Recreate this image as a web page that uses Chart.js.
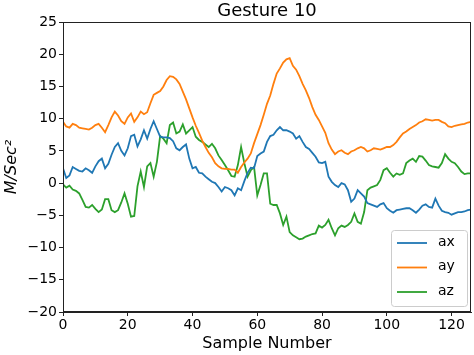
<!DOCTYPE html>
<html><head><meta charset="utf-8">
<script src="https://cdn.jsdelivr.net/npm/chart.js@4"></script>
<style>html,body{margin:0;padding:0;background:#fff;overflow:hidden}</style>
</head><body>
<canvas id="c" width="474" height="355" style="display:block;width:474px;height:355px"></canvas>
<script>
const samples = Array.from({length: 127}, (_, i) => i);
const xTicks = [0, 20, 40, 60, 80, 100, 120];
const yTicks = [-20, -15, -10, -5, 0, 5, 10, 15, 20, 25];
const seriesNames = ['ax', 'ay', 'az'];
const seriesColors = ['#1f77b4', '#ff7f0e', '#2ca02c'];
const chartTitle = 'Gesture 10';

const ax = [2.3,0.8,1.2,2.5,2.2,1.9,1.8,2.3,2.0,1.6,2.6,3.4,3.8,2.3,3.0,4.4,5.6,6.2,5.0,4.3,
5.4,7.3,7.5,5.7,6.8,8.2,6.9,8.4,9.6,8.4,7.2,7.1,7.1,7.0,6.5,5.4,5.1,5.6,6.0,3.8,
2.3,2.5,1.6,1.5,1.0,0.6,0.2,0.0,-0.6,-1.3,-0.6,-0.8,-1.1,-1.9,-0.8,-1.1,0.3,1.6,2.4,2.3,
4.2,4.6,4.9,6.4,7.3,7.5,8.2,8.7,8.2,8.2,8.0,7.7,6.9,7.3,6.4,5.6,5.3,4.7,4.1,3.2,
3.1,3.3,1.0,0.2,-0.3,-0.6,0.0,-0.2,-1.1,-2.9,-2.4,-1.1,-1.6,-2.1,-3.1,-3.3,-3.5,-3.7,-3.3,-3.1,
-3.9,-4.3,-4.6,-4.2,-4.1,-4.0,-3.9,-3.9,-4.2,-4.6,-4.1,-3.5,-3.3,-3.7,-3.8,-2.4,-3.5,-4.3,-4.5,-4.6,
-4.9,-4.7,-4.5,-4.5,-4.4,-4.2,-4.1];

const ay = [9.5,8.8,8.6,9.2,9.0,8.6,8.5,8.4,8.3,8.6,9.0,9.2,8.6,7.9,9.0,10.2,11.1,10.5,9.6,9.2,
10.2,10.8,9.5,10.2,11.1,10.7,11.0,12.4,13.7,14.0,14.3,15.0,16.0,16.6,16.5,16.1,15.4,14.2,13.0,11.6,
10.2,8.9,7.8,6.6,5.6,4.7,4.0,3.1,2.6,2.3,2.2,2.2,2.1,2.1,1.6,2.5,3.2,3.8,4.6,6.2,
7.6,9.0,10.6,12.3,13.6,15.4,17.0,17.8,18.7,19.2,19.4,18.2,17.6,16.6,15.4,14.4,13.2,11.8,10.6,9.8,
8.8,7.8,6.2,5.2,4.5,4.9,5.1,4.7,4.5,4.9,5.1,5.4,5.6,5.4,4.9,5.1,5.4,5.3,5.2,5.4,
5.6,5.6,5.9,6.4,7.1,7.7,8.0,8.4,8.7,9.0,9.4,9.6,9.9,9.8,9.7,9.8,9.8,9.5,9.3,8.8,
8.7,8.9,9.0,9.1,9.2,9.4,9.5];

const az = [-0.2,-0.7,-0.4,-1.0,-1.2,-1.6,-2.6,-3.7,-3.8,-3.4,-4.0,-4.5,-4.1,-2.5,-2.5,-4.2,-4.5,-4.2,-3.0,-1.6,
-3.2,-5.2,-5.1,-0.5,1.8,-0.6,2.6,3.1,1.0,3.3,7.3,6.9,6.2,9.0,9.4,7.7,8.0,9.1,7.7,8.2,
8.7,7.2,6.7,6.4,6.0,5.6,6.1,5.4,4.3,3.6,2.8,2.0,1.1,1.0,2.8,5.6,3.1,1.0,2.0,2.5,
-1.9,-0.3,1.5,1.5,-3.2,-3.4,-3.4,-4.7,-6.5,-5.2,-7.6,-8.1,-8.4,-8.7,-8.6,-8.3,-8.1,-7.9,-7.8,-6.6,
-6.9,-6.5,-5.7,-7.0,-8.1,-7.0,-6.6,-6.8,-6.5,-6.0,-4.7,-6.0,-6.3,-4.5,-1.1,-0.7,-0.5,-0.3,0.5,2.0,
2.3,1.6,1.0,1.5,1.3,1.5,3.1,3.5,3.8,3.3,4.2,4.1,3.5,2.8,2.6,2.5,2.4,3.1,4.5,3.8,
3.3,3.1,2.5,1.8,1.4,1.5,1.5];

const seriesValues = [ax, ay, az];
const FONT = 'DejaVu Sans';

const frameAndLegend = {
  id: 'frameAndLegend',
  afterDraw(chart) {
    const ctx = chart.ctx;
    const a = chart.chartArea;
    ctx.save();
    ctx.strokeStyle = '#222';
    ctx.lineWidth = 1;
    ctx.strokeRect(Math.round(a.left) + 0.5, Math.round(a.top) + 0.5,
                   Math.round(a.right - a.left) - 1, Math.round(a.bottom - a.top) - 1);
    // title centred over the axes
    ctx.fillStyle = '#000';
    ctx.font = '18px "' + FONT + '"';
    ctx.textAlign = 'center';
    ctx.textBaseline = 'alphabetic';
    ctx.fillText(chartTitle, (a.left + a.right) / 2, a.top - 6);
    // legend
    const w = 76, h = 76;
    const x0 = a.right - 4 - w, y0 = a.bottom - 6 - h;
    ctx.beginPath();
    ctx.roundRect(x0 + 0.5, y0 + 0.5, w, h, 3);
    ctx.fillStyle = 'rgba(255,255,255,0.8)';
    ctx.fill();
    ctx.strokeStyle = '#cccccc';
    ctx.lineWidth = 1;
    ctx.stroke();
    ctx.font = '14px "' + FONT + '"';
    ctx.textBaseline = 'middle';
    ctx.textAlign = 'left';
    chart.data.datasets.forEach((ds, k) => {
      const cy = y0 + 13 + k * 24.5;
      ctx.beginPath();
      ctx.moveTo(x0 + 6, cy);
      ctx.lineTo(x0 + 36, cy);
      ctx.strokeStyle = ds.borderColor;
      ctx.lineWidth = 1.8;
      ctx.stroke();
      ctx.fillStyle = '#000';
      ctx.fillText(ds.label, x0 + 47, cy - 1);
    });
    ctx.restore();
  }
};

new Chart(document.getElementById('c'), {
  type: 'line',
  data: {
    datasets: seriesNames.map((name, k) => ({
      label: name,
      data: samples.map((s, i) => ({x: s, y: seriesValues[k][i]})),
      borderColor: seriesColors[k],
      backgroundColor: seriesColors[k],
      borderWidth: 1.8,
      pointRadius: 0,
      tension: 0,
      fill: false
    }))
  },
  options: {
    responsive: false,
    animation: false,
    devicePixelRatio: 1,
    layout: {padding: {left: 0, right: 3, top: 22, bottom: 0}},
    plugins: {
      legend: {display: false},
      tooltip: {enabled: false},
      title: {display: false}
    },
    scales: {
      x: {
        type: 'linear',
        min: 0, max: 126,
        afterFit(s) { s.height = 43; },
        afterBuildTicks(s) { s.ticks = xTicks.map(v => ({value: v})); },
        grid: {display: true, drawOnChartArea: false, drawTicks: true, tickLength: 4, color: '#222'},
        border: {display: true, color: '#222', width: 1},
        ticks: {color: '#000', font: {family: FONT, size: 14}, padding: 1, maxRotation: 0},
        title: {display: true, text: 'Sample Number', color: '#000',
                font: {family: FONT, size: 16, lineHeight: 1.2}, padding: {top: 0, bottom: 2}}
      },
      y: {
        type: 'linear',
        min: -20, max: 25,
        afterFit(s) { s.width = 63; },
        afterBuildTicks(s) { s.ticks = yTicks.map(v => ({value: v})); },
        grid: {display: true, drawOnChartArea: false, drawTicks: true, tickLength: 4, color: '#222'},
        border: {display: true, color: '#222', width: 1},
        ticks: {color: '#000', font: {family: FONT, size: 14}, padding: 2,
                callback: v => String(v).replace('-', '\u2212')},
        title: {display: true, text: 'M/Sec\u00B2', color: '#000',
                font: {family: FONT, size: 16, style: 'italic', lineHeight: 1.2}, padding: {top: 2, bottom: 0}}
      }
    }
  },
  plugins: [frameAndLegend]
});
</script>
</body></html>
